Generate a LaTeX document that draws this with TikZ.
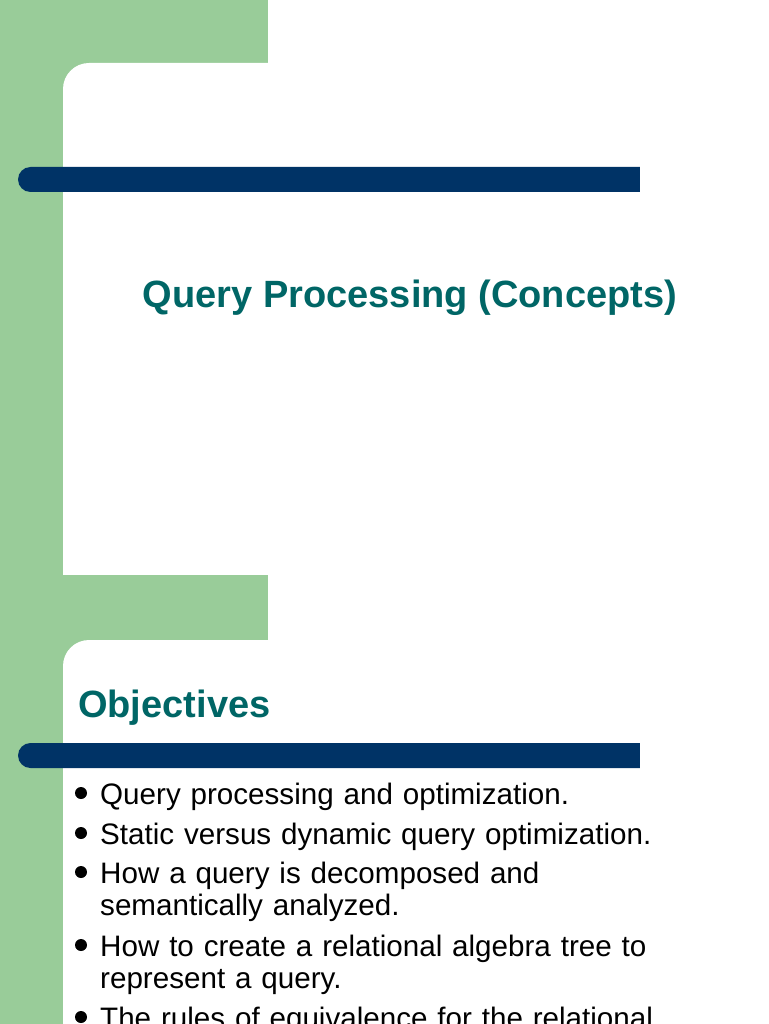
\documentclass[tikz,border=0pt]{standalone}
\usepackage{fontspec}
\setmainfont{Liberation Sans}
\definecolor{sgreen}{HTML}{99CC99}
\definecolor{sblue}{HTML}{003366}
\definecolor{steal}{HTML}{006666}
\tikzset{bul/.style={anchor=base west, font=\fontsize{29.6}{32}\selectfont, align=left, text width=620pt, inner sep=0pt},
 dot/.style={circle, fill=black, minimum size=12pt, inner sep=0pt}}
\begin{document}
\begin{tikzpicture}[x=1pt,y=-1pt]
\useasboundingbox (0,0) rectangle (768,1024);
\clip (0,0) rectangle (768,1024);
\fill[white] (0,0) rectangle (768,1024);
% slide 1
\fill[sgreen] (0,0) rectangle (268,63);
\fill[sgreen] (0,0) rectangle (63,575);
\fill[sgreen] (63,63) rectangle (90,90);
\fill[white, rounded corners=26pt] (63,63) rectangle (300,300);
\fill[white] (90,63) rectangle (300,300);
\fill[white] (63,90) rectangle (300,300);
\fill[sblue, rounded corners=12.5pt] (18,167) rectangle (660,192);
\fill[white] (640,160) rectangle (680,200);
\node[font=\bfseries\fontsize{38}{44}\selectfont, text=steal, anchor=base] (t1) at (410,307) {Query Processing (Concepts)};
% slide 2
\fill[sgreen] (0,575) rectangle (268,640);
\fill[sgreen] (0,575) rectangle (63,1024);
\fill[sgreen] (63,640) rectangle (90,667);
\fill[white, rounded corners=26pt] (63,640) rectangle (300,900);
\fill[white] (90,640) rectangle (300,900);
\fill[white] (63,667) rectangle (300,900);
\fill[sblue, rounded corners=12.5pt] (18,743) rectangle (660,768);
\fill[white] (640,735) rectangle (680,775);
\node[font=\bfseries\fontsize{38}{44}\selectfont, text=steal, anchor=base west, inner sep=0pt] (t2) at (78,717) {Objectives};
\node[bul] (b1) at (100,804) {Query processing and optimization.};
\node[bul] (b2) at (100,844) {Static versus dynamic query optimization.};
\node[bul] (b3) at (100,883) {How a query is decomposed and\\semantically analyzed.};
\node[bul] (b4) at (100,956) {How to create a relational algebra tree to\\represent a query.};
\node[bul] (b5) at (100,1028) {The rules of equivalence for the relational};
\foreach \y/\n in {793/d1,833/d2,872/d3,945/d4,1017/d5} \node[dot] (\n) at (81,\y) {};
\end{tikzpicture}
\end{document}
